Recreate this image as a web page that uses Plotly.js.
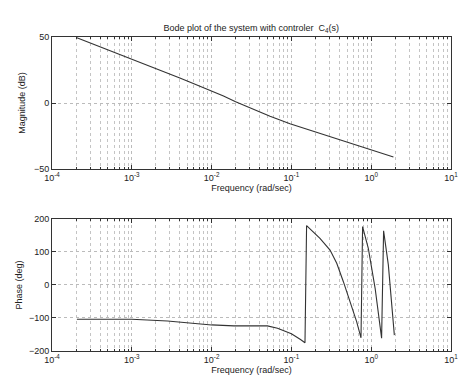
<!DOCTYPE html>
<html>
<head>
<meta charset="utf-8">
<script src="https://cdn.plot.ly/plotly-3.0.1.min.js"></script>
<style>html,body{margin:0;padding:0;background:#fff;}#chart{width:474px;height:391px;}</style>
</head>
<body>
<div id="chart"></div>
<script>
// Magnitude data
const freqMag = [2.05e-4, 5e-4, 1e-3, 2e-3, 4e-3, 5.4e-3, 1e-2, 1.41e-2, 2e-2, 3.16e-2, 5.4e-2, 9.6e-2, 0.188, 0.407, 0.966, 1.9];
const magDb   = [49.5, 40.5, 33.3, 26.2, 19, 15.8, 9.4, 5.3, 1.0, -4.2, -10.0, -15.7, -21.5, -27.8, -35.4, -40.9];
// Phase data
const freqPhase = [2.05e-4, 1e-3, 2.8e-3, 1e-2, 1.9e-2, 5e-2, 6.7e-2, 0.1, 0.13, 0.148, 0.155, 0.228, 0.305, 0.37, 0.448, 0.542, 0.657, 0.745, 0.78, 0.92, 1.12, 1.35, 1.43, 1.64, 1.95];
const phaseDeg  = [-104, -104, -109, -121, -124, -124, -131, -148, -165, -175, 180, 141, 106, 66, 10, -51, -111, -160, 177, 111, -10, -161, 164, 61, -152];
// Axis ticks
const xTickVals = [1e-4, 1e-3, 1e-2, 1e-1, 1, 10];
const xTickText = ['10<sup>-4</sup>', '10<sup>-3</sup>', '10<sup>-2</sup>', '10<sup>-1</sup>', '10<sup>0</sup>', '10<sup>1</sup>'];
const magTicks = [-50, 0, 50];
const phaseTicks = [-200, -100, 0, 100, 200];

const fnt = {family: 'Liberation Sans, Arial, sans-serif', size: 9, color: '#222'};
const lineStyle = {color: '#333', width: 1.1};

function xaxis(anchor) {
  return {
    type: 'log', range: [-4, 1], anchor: anchor,
    tickvals: xTickVals, ticktext: xTickText,
    ticks: 'inside', ticklen: 4, tickcolor: '#333',
    showline: true, linecolor: '#333', linewidth: 1, mirror: 'ticks',
    showgrid: true, gridcolor: '#bbb', griddash: 'dot', gridwidth: 1,
    minor: {dtick: 'D1', showgrid: true, gridcolor: '#c4c4c4', griddash: 'dot', gridwidth: 1, ticks: 'inside', ticklen: 2, tickcolor: '#333'},
    zeroline: false, tickfont: fnt,
    title: {text: 'Frequency (rad/sec)', font: fnt, standoff: 2}
  };
}

const data = [
  {x: freqMag, y: magDb, type: 'scatter', mode: 'lines', line: lineStyle, xaxis: 'x', yaxis: 'y', hoverinfo: 'skip'},
  {x: freqPhase, y: phaseDeg, type: 'scatter', mode: 'lines', line: lineStyle, xaxis: 'x2', yaxis: 'y2', hoverinfo: 'skip'}
];

const layout = {
  width: 474, height: 391,
  margin: {l: 52, r: 23, t: 37, b: 40},
  paper_bgcolor: '#fff', plot_bgcolor: '#fff',
  showlegend: false,
  font: fnt,
  title: {text: 'Bode plot of the system with controler  C<sub>4</sub>(s)', font: fnt, x: 0.53, xanchor: 'center', y: 0.928, yanchor: 'middle'},
  xaxis: Object.assign(xaxis('y'), {domain: [0, 1]}),
  xaxis2: Object.assign(xaxis('y2'), {domain: [0, 1]}),
  yaxis: {
    domain: [0.5796, 1], range: [-50, 50], anchor: 'x',
    tickvals: magTicks, ticks: 'inside', ticklen: 4, tickcolor: '#333',
    showline: true, linecolor: '#333', mirror: 'ticks',
    showgrid: true, gridcolor: '#bbb', griddash: 'dot', zeroline: false,
    tickfont: fnt, title: {text: 'Magnitude (dB)', font: fnt, standoff: 6}
  },
  yaxis2: {
    domain: [0, 0.4204], range: [-200, 200], anchor: 'x2',
    tickvals: phaseTicks, ticks: 'inside', ticklen: 4, tickcolor: '#333',
    showline: true, linecolor: '#333', mirror: 'ticks',
    showgrid: true, gridcolor: '#bbb', griddash: 'dot', zeroline: false,
    tickfont: fnt, title: {text: 'Phase (deg)', font: fnt, standoff: 4}
  }
};

Plotly.newPlot('chart', data, layout, {staticPlot: true, displayModeBar: false});
</script>
</body>
</html>
